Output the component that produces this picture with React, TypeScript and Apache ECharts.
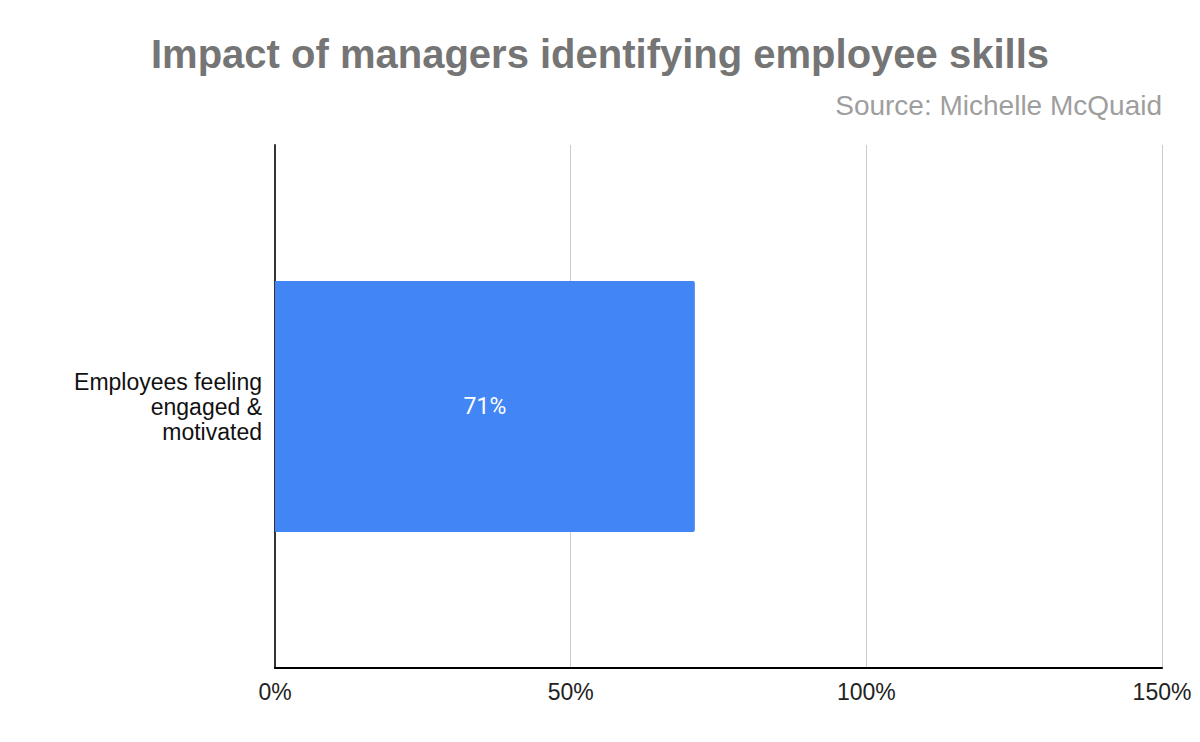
import React, { useEffect, useRef } from 'react'
import * as echarts from 'echarts'

const categories = ['Employees feeling\nengaged &\nmotivated']
const values = [71]
const xTicks = [0, 50, 100, 150]

const FONT = 'Liberation Sans, Arial, sans-serif'

const App: React.FC = () => {
    const chartRef = useRef<HTMLDivElement | null>(null)

    useEffect(() => {
        if (!chartRef.current) return
        const chart = echarts.init(chartRef.current, null, { renderer: 'svg' })

        chart.setOption({
            animation: false,
            backgroundColor: '#ffffff',
            title: [
                {
                    text: 'Impact of managers identifying employee skills',
                    left: 'center',
                    top: 29,
                    textStyle: {
                        fontFamily: FONT,
                        fontSize: 40,
                        fontWeight: 'bold',
                        color: '#757575',
                    },
                },
                {
                    text: 'Source: Michelle McQuaid',
                    right: 33,
                    top: 86,
                    textStyle: {
                        fontFamily: FONT,
                        fontSize: 28,
                        fontWeight: 'normal',
                        color: '#9e9e9e',
                    },
                },
            ],
            grid: { left: 275, right: 38, top: 145, bottom: 74 },
            xAxis: {
                type: 'value',
                min: xTicks[0],
                max: xTicks[xTicks.length - 1],
                interval: 50,
                axisLine: { show: true, lineStyle: { color: '#000', width: 2 } },
                axisTick: { show: false },
                axisLabel: {
                    margin: 12,
                    fontFamily: FONT,
                    fontSize: 23,
                    color: '#222',
                    formatter: (v: number) => v + '%',
                },
                splitLine: { show: true, lineStyle: { color: '#cccccc', width: 1 } },
            },
            yAxis: {
                type: 'category',
                data: categories,
                axisLine: { show: true, lineStyle: { color: '#333', width: 2 } },
                axisTick: { show: false },
                axisLabel: {
                    margin: 13,
                    fontFamily: FONT,
                    fontSize: 23,
                    lineHeight: 25,
                    color: '#111',
                    align: 'right',
                },
            },
            series: [
                {
                    type: 'bar',
                    data: values,
                    barWidth: 251,
                    itemStyle: { color: '#4285F4', borderRadius: [0, 2, 2, 0] },
                    label: {
                        show: true,
                        position: 'inside',
                        formatter: '{c}%',
                        fontFamily: 'Roboto, sans-serif',
                        fontSize: 23,
                        color: '#ffffff',
                    },
                },
            ],
        })

        return () => {
            chart.dispose()
        }
    }, [])

    return <div ref={chartRef} style={{ width: 1200, height: 742, margin: -8 }} />
}

export default App
